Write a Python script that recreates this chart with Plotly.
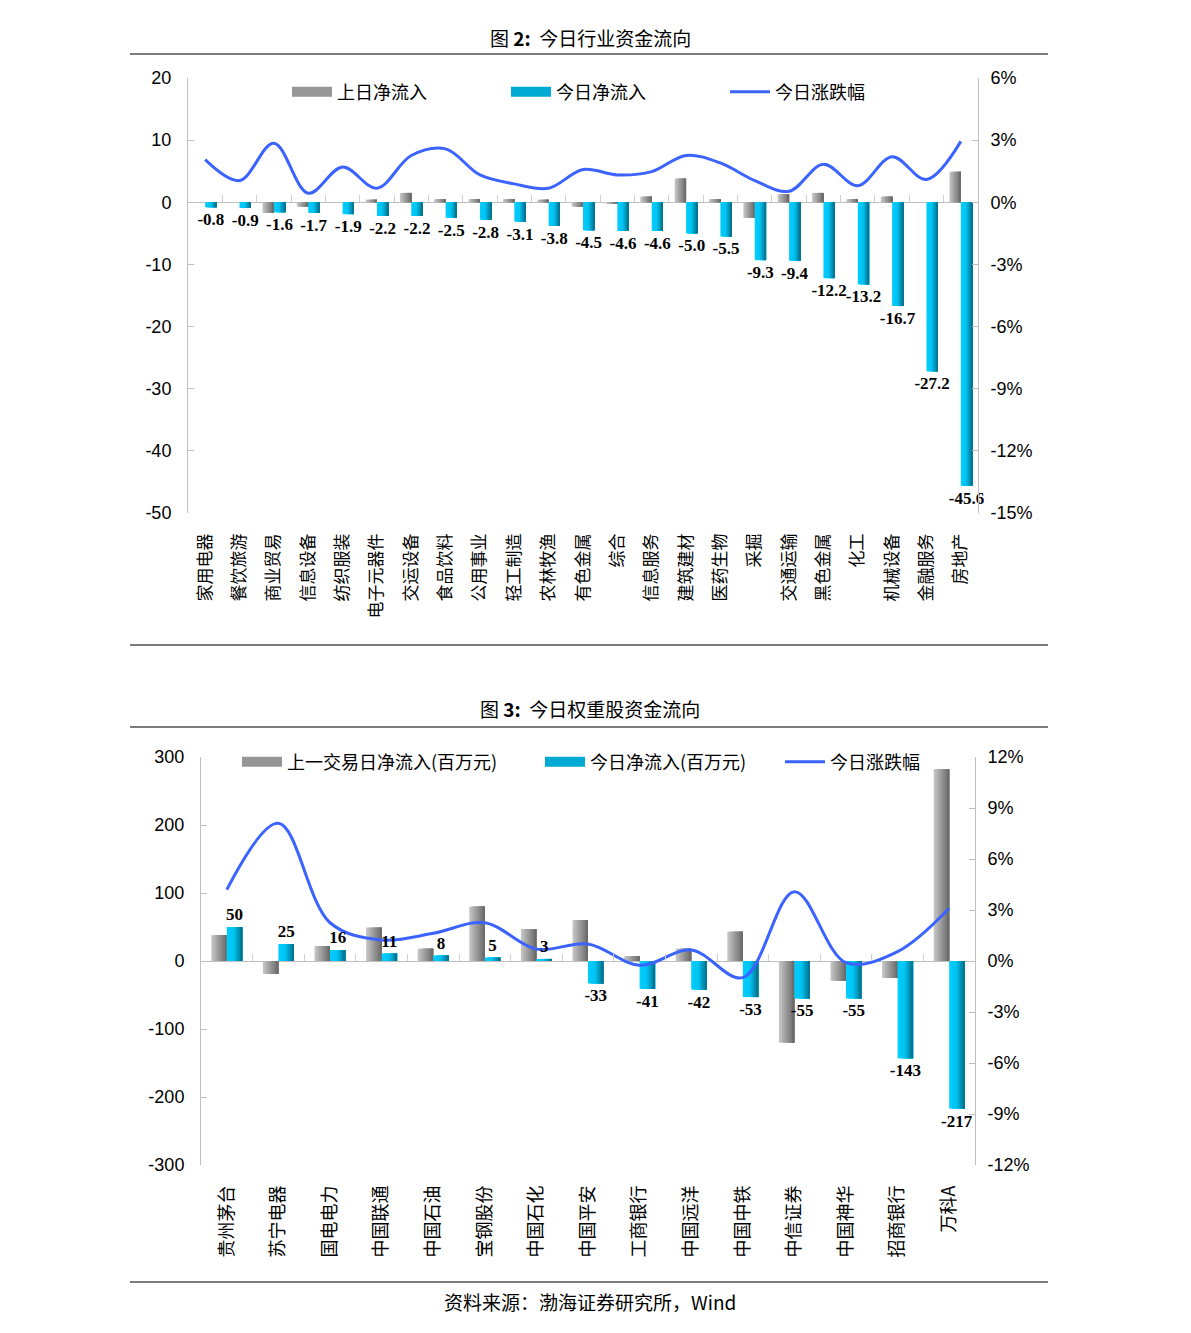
import plotly.graph_objects as go

W, H = 1191, 1333

# 图2：今日行业资金流向
hy_names = ['家用电器', '餐饮旅游', '商业贸易', '信息设备', '纺织服装', '电子元器件', '交运设备',
            '食品饮料', '公用事业', '轻工制造', '农林牧渔', '有色金属', '综合', '信息服务',
            '建筑建材', '医药生物', '采掘', '交通运输', '黑色金属', '化工', '机械设备',
            '金融服务', '房地产']
hy_prev = [0.0, 0.0, -1.7, -0.7, 0.0, 0.4, 1.5, 0.5, 0.5, 0.5, 0.4, -0.7, -0.2, 0.9,
           3.8, 0.5, -2.5, 1.3, 1.5, 0.5, 0.9, 0.0, 4.9]
hy_today = [-0.8, -0.9, -1.6, -1.7, -1.9, -2.2, -2.2, -2.5, -2.8, -3.1, -3.8, -4.5, -4.6,
            -4.6, -5.0, -5.5, -9.3, -9.4, -12.2, -13.2, -16.7, -27.2, -45.6]
hy_chg = [2.06, 1.05, 2.85, 0.44, 1.70, 0.68, 2.26, 2.58, 1.32, 0.89, 0.68, 1.58, 1.32,
          1.48, 2.26, 1.90, 1.05, 0.53, 1.84, 0.80, 2.20, 1.10, 2.94]
hy_left_ticks = [20, 10, 0, -10, -20, -30, -40, -50]
hy_left_text = ['20', '10', '0', '-10', '-20', '-30', '-40', '-50']
hy_right_ticks = [6, 3, 0, -3, -6, -9, -12, -15]
hy_right_text = ['6%', '3%', '0%', '-3%', '-6%', '-9%', '-12%', '-15%']

# 图3：今日权重股资金流向
qz_names = ['贵州茅台', '苏宁电器', '国电电力', '中国联通', '中国石油', '宝钢股份', '中国石化',
            '中国平安', '工商银行', '中国远洋', '中国中铁', '中信证券', '中国神华', '招商银行', '万科A']
qz_prev = [38, -19, 22, 49, 18, 80, 47, 60, 7, 18, 43, -120, -29, -25, 282]
qz_today = [50, 25, 16, 11, 8, 5, 3, -33, -41, -42, -53, -55, -55, -143, -217]
qz_chg = [4.2, 8.1, 2.25, 1.24, 1.63, 2.25, 0.70, 1.00, -0.25, 0.65, -0.98, 4.08, -0.10, 0.55, 3.10]
qz_left_ticks = [300, 200, 100, 0, -100, -200, -300]
qz_left_text = ['300', '200', '100', '0', '-100', '-200', '-300']
qz_right_ticks = [12, 9, 6, 3, 0, -3, -6, -9, -12]
qz_right_text = ['12%', '9%', '6%', '3%', '0%', '-3%', '-6%', '-9%', '-12%']

GRAY = [(0.0, (200, 200, 200)), (1.0, (104, 104, 104))]
CYAN = [(0.0, (0, 206, 255)), (0.45, (0, 196, 242)), (1.0, (0, 112, 140))]
LINE_BLUE = '#3B63FF'
AXIS_GRAY = '#BFBFBF'
CJK = 'Noto Sans CJK SC'
LATIN = 'Liberation Sans'
SERIF = 'Liberation Serif'


def px(x):
    return x / W


def py(y):
    return 1 - y / H


def pick(stops, t):
    for (t0, c0), (t1, c1) in zip(stops[:-1], stops[1:]):
        if t <= t1:
            f = (t - t0) / (t1 - t0)
            c = [round(a + (b - a) * f) for a, b in zip(c0, c1)]
            return 'rgb(%d,%d,%d)' % tuple(c)
    return 'rgb(%d,%d,%d)' % stops[-1][1]


def grad_bars(fig, x, y, off, width, stops, xa, ya, n=10):
    # 用多层叠放的细条模拟渐变填充
    for k in range(n):
        fig.add_trace(go.Bar(
            x=x, y=y, xaxis=xa, yaxis=ya,
            offset=off + width * k / n, width=width * (n - k) / n,
            marker=dict(color=pick(stops, (k + 0.5) / n), line=dict(width=0)),
            showlegend=False, hoverinfo='skip'))


def label_bars(fig, x, y, off, width, fmt, xa, ya):
    fig.add_trace(go.Bar(
        x=x, y=y, xaxis=xa, yaxis=ya, offset=off, width=width,
        marker=dict(color='rgba(0,0,0,0)', line=dict(width=0)),
        texttemplate=fmt, textposition='outside', constraintext='none', cliponaxis=False,
        textfont=dict(family=SERIF, size=17, color='black', weight='bold'),
        showlegend=False, hoverinfo='skip'))


def legend_key(fig, name, color, width, xa, ya, leg):
    fig.add_trace(go.Scatter(
        x=[None], y=[None], xaxis=xa, yaxis=ya, mode='lines', name=name,
        line=dict(color=color, width=width), legend=leg, hoverinfo='skip'))


fig = go.Figure()

# ---- 图2 ----
grad_bars(fig, hy_names, hy_prev, -0.33, 0.33, GRAY, 'x', 'y')
grad_bars(fig, hy_names, hy_today, 0.0, 0.33, CYAN, 'x', 'y')
label_bars(fig, hy_names, hy_today, 0.0, 0.33, '%{y:.1f}', 'x3', 'y')
fig.add_trace(go.Scatter(x=hy_names, y=hy_chg, xaxis='x', yaxis='y2', mode='lines',
                         line=dict(color=LINE_BLUE, width=3, shape='spline'),
                         name='今日涨跌幅', legend='legend3', hoverinfo='skip'))
legend_key(fig, '上日净流入', 'rgb(150,150,150)', 12, 'x', 'y', 'legend')
legend_key(fig, '今日净流入', 'rgb(0,170,210)', 12, 'x', 'y', 'legend2')

# ---- 图3 ----
grad_bars(fig, qz_names, qz_prev, -0.3, 0.3, GRAY, 'x2', 'y3')
grad_bars(fig, qz_names, qz_today, 0.0, 0.3, CYAN, 'x2', 'y3')
label_bars(fig, qz_names, qz_today, 0.0, 0.3, '%{y:.0f}', 'x4', 'y3')
fig.add_trace(go.Scatter(x=qz_names, y=qz_chg, xaxis='x2', yaxis='y4', mode='lines',
                         line=dict(color=LINE_BLUE, width=3, shape='spline'),
                         name='今日涨跌幅', legend='legend6', hoverinfo='skip'))
legend_key(fig, '上一交易日净流入(百万元)', 'rgb(150,150,150)', 12, 'x2', 'y3', 'legend4')
legend_key(fig, '今日净流入(百万元)', 'rgb(0,170,210)', 12, 'x2', 'y3', 'legend5')

d1x = [px(188), px(978)]
d1y = [py(513), py(78)]
d2x = [px(201), px(975)]
d2y = [py(1165), py(757)]


def zero_pos(dom, lo, hi):
    return dom[0] + (0 - lo) / (hi - lo) * (dom[1] - dom[0])


tickfont = dict(family=LATIN, size=18, color='black')
cat_axis = dict(type='category', showline=False, showgrid=False, zeroline=False, automargin=False,
                ticks='', tickangle=-90, tickfont=dict(family=CJK, size=17, color='black'),
                ticklabelstandoff=16)
val_axis = dict(showline=True, linecolor=AXIS_GRAY, linewidth=1, showgrid=False, automargin=False,
                ticks='inside', ticklen=6, tickcolor=AXIS_GRAY, tickfont=tickfont, tickmode='array')
zero_ticks = dict(type='category', anchor='free', showline=False, showgrid=False, automargin=False,
                  zeroline=False, showticklabels=False, ticks='inside', ticklen=7,
                  tickcolor='#D0D0D0', tickson='boundaries')

leg = dict(orientation='h', xanchor='left', yanchor='middle', bgcolor='rgba(0,0,0,0)',
           itemwidth=40, font=dict(family=CJK, size=18, color='black'))

fig.update_layout(
    width=W, height=H, margin=dict(l=0, r=0, t=0, b=0, autoexpand=False),
    paper_bgcolor='white', plot_bgcolor='white', barmode='overlay',
    xaxis=dict(cat_axis, domain=d1x, anchor='y', range=[-0.5, 22.5]),
    xaxis3=dict(zero_ticks, overlaying='x', position=zero_pos(d1y, -50, 20), range=[-0.5, 22.5]),
    yaxis=dict(val_axis, domain=d1y, anchor='x', range=[-50, 20],
               tickvals=hy_left_ticks, ticktext=hy_left_text,
               zeroline=True, zerolinecolor=AXIS_GRAY, zerolinewidth=1, ticklabelstandoff=12),
    yaxis2=dict(val_axis, overlaying='y', side='right', anchor='x', range=[-15, 6],
                tickvals=hy_right_ticks, ticktext=hy_right_text, zeroline=False, ticklabelstandoff=8),
    xaxis2=dict(cat_axis, domain=d2x, anchor='y3', range=[-0.5, 14.5],
                tickfont=dict(family=CJK, size=18, color='black')),
    xaxis4=dict(zero_ticks, overlaying='x2', position=zero_pos(d2y, -300, 300), range=[-0.5, 14.5]),
    yaxis3=dict(val_axis, domain=d2y, anchor='x2', range=[-300, 300],
                tickvals=qz_left_ticks, ticktext=qz_left_text,
                zeroline=True, zerolinecolor=AXIS_GRAY, zerolinewidth=1, ticklabelstandoff=12),
    yaxis4=dict(val_axis, overlaying='y3', side='right', anchor='x2', range=[-12, 12],
                tickvals=qz_right_ticks, ticktext=qz_right_text, zeroline=False, ticklabelstandoff=8),
    legend=dict(leg, x=px(287), y=py(92)),
    legend2=dict(leg, x=px(506), y=py(92)),
    legend3=dict(leg, x=px(725), y=py(92)),
    legend4=dict(leg, x=px(237), y=py(762)),
    legend5=dict(leg, x=px(540), y=py(762)),
    legend6=dict(leg, x=px(780), y=py(762)),
    showlegend=True,
)

# 标题、来源与分隔线
notes = [('图 <b>2:</b>  今日行业资金流向', 37), ('图 <b>3:</b>  今日权重股资金流向', 708),
         ('资料来源：渤海证券研究所，Wind', 1301)]
for txt, yy in notes:
    fig.add_annotation(text=txt, x=px(590), y=py(yy), xref='paper', yref='paper',
                       showarrow=False, xanchor='center', yanchor='middle',
                       font=dict(family=CJK, size=19, color='black'))
for yy in [54, 645, 727, 1282]:
    fig.add_shape(type='line', xref='paper', yref='paper', x0=px(130), x1=px(1048),
                  y0=py(yy), y1=py(yy), line=dict(color='#505050', width=1.5))

fig.write_html('out.html', config={'displayModeBar': False},
               post_script="document.body.style.margin='0';")
